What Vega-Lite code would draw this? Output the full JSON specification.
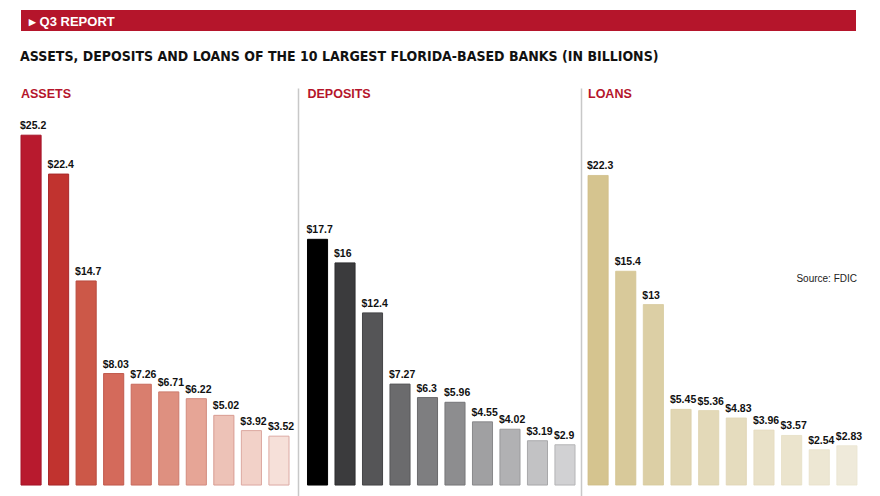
{
  "$schema": "https://vega.github.io/schema/vega-lite/v6.json",
  "padding": {"left": 20, "top": 10, "right": 24, "bottom": 0},
  "background": "white",
  "config": {"view": {"stroke": null}, "font": "Liberation Sans"},
  "datasets": {
    "banks": [
      {"metric": "Assets", "rank": 1, "value": 25.2},
      {"metric": "Assets", "rank": 2, "value": 22.4},
      {"metric": "Assets", "rank": 3, "value": 14.7},
      {"metric": "Assets", "rank": 4, "value": 8.03},
      {"metric": "Assets", "rank": 5, "value": 7.26},
      {"metric": "Assets", "rank": 6, "value": 6.71},
      {"metric": "Assets", "rank": 7, "value": 6.22},
      {"metric": "Assets", "rank": 8, "value": 5.02},
      {"metric": "Assets", "rank": 9, "value": 3.92},
      {"metric": "Assets", "rank": 10, "value": 3.52},
      {"metric": "Deposits", "rank": 1, "value": 17.7},
      {"metric": "Deposits", "rank": 2, "value": 16},
      {"metric": "Deposits", "rank": 3, "value": 12.4},
      {"metric": "Deposits", "rank": 4, "value": 7.27},
      {"metric": "Deposits", "rank": 5, "value": 6.3},
      {"metric": "Deposits", "rank": 6, "value": 5.96},
      {"metric": "Deposits", "rank": 7, "value": 4.55},
      {"metric": "Deposits", "rank": 8, "value": 4.02},
      {"metric": "Deposits", "rank": 9, "value": 3.19},
      {"metric": "Deposits", "rank": 10, "value": 2.9},
      {"metric": "Loans", "rank": 1, "value": 22.3},
      {"metric": "Loans", "rank": 2, "value": 15.4},
      {"metric": "Loans", "rank": 3, "value": 13},
      {"metric": "Loans", "rank": 4, "value": 5.45},
      {"metric": "Loans", "rank": 5, "value": 5.36},
      {"metric": "Loans", "rank": 6, "value": 4.83},
      {"metric": "Loans", "rank": 7, "value": 3.96},
      {"metric": "Loans", "rank": 8, "value": 3.57},
      {"metric": "Loans", "rank": 9, "value": 2.54},
      {"metric": "Loans", "rank": 10, "value": 2.83}
    ]
  },
  "bounds": "flush",
  "spacing": 57,
  "vconcat": [
    {
      "width": 835,
      "height": 21,
      "view": {"fill": "#b5152b", "stroke": null},
      "data": {"values": [{"label": "▸ Q3 REPORT"}]},
      "mark": {"type": "text", "align": "left", "baseline": "middle", "dx": 8, "dy": 1, "color": "white", "fontWeight": "bold", "fontSize": 13},
      "encoding": {
        "x": {"datum": 0, "type": "quantitative", "scale": {"domain": [0, 1]}, "axis": null},
        "text": {"field": "label"}
      }
    },
    {
      "title": {
        "text": "ASSETS, DEPOSITS AND LOANS OF THE 10 LARGEST FLORIDA-BASED BANKS (IN BILLIONS)",
        "anchor": "start",
        "font": "DejaVu Sans Condensed, sans-serif",
        "fontSize": 14,
        "fontWeight": "bold",
        "color": "#111111",
        "baseline": "alphabetic",
        "offset": 13
      },
      "bounds": "flush",
      "spacing": 13,
      "resolve": {"scale": {"color": "independent", "stroke": "independent"}},
      "hconcat": [
        {
          "width": 268,
          "height": 408,
          "layer": [
            {
              "data": {"name": "banks"},
              "transform": [{"filter": "datum.metric === 'Assets'"}],
              "mark": {"type": "bar", "strokeWidth": 1},
              "encoding": {
                "x": {"field": "rank", "type": "ordinal", "axis": null, "scale": {"paddingInner": 0.27, "paddingOuter": 0}},
                "y": {"field": "value", "type": "quantitative", "axis": null, "scale": {"domain": [-0.79, 28.6], "nice": false}},
                "color": {"field": "rank", "type": "ordinal", "legend": null, "scale": {"range": ["#b81a2e", "#c1332f", "#cc5848", "#d46a5b", "#d97e6e", "#de9080", "#e6a596", "#edc2b7", "#f2d1c8", "#f6e0d9"]}},
                "stroke": {"field": "rank", "type": "ordinal", "legend": null, "scale": {"range": ["#a51428", "#a8282a", "#b84a3e", "#c0594c", "#c86a5d", "#cc7a6c", "#d28a7e", "#d89c92", "#dca8a0", "#dcaaa4"]}}
              }
            },
            {
              "data": {"name": "banks"},
              "transform": [{"filter": "datum.metric === 'Assets'"}],
              "mark": {"type": "text", "align": "left", "baseline": "alphabetic", "dx": -1, "dy": -6, "fontWeight": "bold", "fontSize": 10.5, "color": "#111111"},
              "encoding": {
                "x": {"field": "rank", "type": "ordinal", "bandPosition": 0},
                "y": {"field": "value", "type": "quantitative"},
                "text": {"field": "value", "type": "quantitative", "format": "$.3~g"}
              }
            },
            {
              "data": {"values": [{"t": "ASSETS"}]},
              "mark": {"type": "text", "align": "left", "baseline": "top", "dy": 0, "fontWeight": "bold", "fontSize": 12.5, "color": "#b5152b"},
              "encoding": {
                "x": {"datum": 1, "type": "ordinal", "bandPosition": 0},
                "y": {"datum": 28.6, "type": "quantitative"},
                "text": {"field": "t"}
              }
            }
          ]
        },
        {
          "width": 273,
          "height": 408,
          "layer": [
            {
              "data": {"name": "banks"},
              "transform": [{"filter": "datum.metric === 'Deposits'"}],
              "mark": {"type": "bar", "strokeWidth": 1},
              "encoding": {
                "x": {"field": "rank", "type": "ordinal", "axis": null, "scale": {"paddingInner": 0.27, "paddingOuter": 0.1, "align": 1}},
                "y": {"field": "value", "type": "quantitative", "scale": {"domain": [-0.79, 28.6], "nice": false},
                  "axis": {"orient": "left", "domain": true, "domainColor": "#c8c8c8", "domainWidth": 1.5, "ticks": false, "labels": false, "grid": false, "title": null, "offset": 4}},
                "color": {"field": "rank", "type": "ordinal", "legend": null, "scale": {"range": ["#000000", "#3b3b3d", "#555557", "#6b6b6d", "#7e7e80", "#8d8d8f", "#a0a0a2", "#b1b1b3", "#c2c2c4", "#d1d1d3"]}},
                "stroke": {"field": "rank", "type": "ordinal", "legend": null, "scale": {"range": ["#000000", "#2e2e30", "#444446", "#58585a", "#6a6a6c", "#767678", "#88888a", "#9a9a9c", "#a8a8aa", "#b4b4b6"]}}
              }
            },
            {
              "data": {"name": "banks"},
              "transform": [{"filter": "datum.metric === 'Deposits'"}],
              "mark": {"type": "text", "align": "left", "baseline": "alphabetic", "dx": -1, "dy": -6, "fontWeight": "bold", "fontSize": 10.5, "color": "#111111"},
              "encoding": {
                "x": {"field": "rank", "type": "ordinal", "bandPosition": 0},
                "y": {"field": "value", "type": "quantitative"},
                "text": {"field": "value", "type": "quantitative", "format": "$.3~g"}
              }
            },
            {
              "data": {"values": [{"t": "DEPOSITS"}]},
              "mark": {"type": "text", "align": "left", "baseline": "top", "dy": 0, "fontWeight": "bold", "fontSize": 12.5, "color": "#b5152b"},
              "encoding": {
                "x": {"datum": 1, "type": "ordinal", "bandPosition": 0},
                "y": {"datum": 28.6, "type": "quantitative"},
                "text": {"field": "t"}
              }
            }
          ]
        },
        {
          "width": 269,
          "height": 408,
          "layer": [
            {
              "data": {"name": "banks"},
              "transform": [{"filter": "datum.metric === 'Loans'"}],
              "mark": {"type": "bar", "strokeWidth": 0.8},
              "encoding": {
                "x": {"field": "rank", "type": "ordinal", "axis": null, "scale": {"paddingInner": 0.27, "paddingOuter": 0}},
                "y": {"field": "value", "type": "quantitative", "scale": {"domain": [-0.79, 28.6], "nice": false},
                  "axis": {"orient": "left", "domain": true, "domainColor": "#c8c8c8", "domainWidth": 1.5, "ticks": false, "labels": false, "grid": false, "title": null, "offset": 7}},
                "color": {"field": "rank", "type": "ordinal", "legend": null, "scale": {"range": ["#d5c48f", "#d8c99a", "#dccfa5", "#e1d6b3", "#e3d9b8", "#e5dcbe", "#e9e1c8", "#ebe4cd", "#ede7d3", "#efeada"]}},
                "stroke": {"field": "rank", "type": "ordinal", "legend": null, "scale": {"range": ["#d0be88", "#d3c492", "#d7ca9d", "#dcd0aa", "#ded3b0", "#e0d6b5", "#e4dbbf", "#e6dec4", "#e8e1ca", "#eae4d1"]}}
              }
            },
            {
              "data": {"name": "banks"},
              "transform": [{"filter": "datum.metric === 'Loans'"}],
              "mark": {"type": "text", "align": "left", "baseline": "alphabetic", "dx": -1, "dy": -6, "fontWeight": "bold", "fontSize": 10.5, "color": "#111111"},
              "encoding": {
                "x": {"field": "rank", "type": "ordinal", "bandPosition": 0},
                "y": {"field": "value", "type": "quantitative"},
                "text": {"field": "value", "type": "quantitative", "format": "$.3~g"}
              }
            },
            {
              "data": {"values": [{"t": "LOANS"}]},
              "mark": {"type": "text", "align": "left", "baseline": "top", "dy": 0, "fontWeight": "bold", "fontSize": 12.5, "color": "#b5152b"},
              "encoding": {
                "x": {"datum": 1, "type": "ordinal", "bandPosition": 0},
                "y": {"datum": 28.6, "type": "quantitative"},
                "text": {"field": "t"}
              }
            },
            {
              "data": {"values": [{"t": "Source: FDIC"}]},
              "mark": {"type": "text", "align": "right", "baseline": "middle", "fontSize": 10, "color": "#222222"},
              "encoding": {
                "x": {"datum": 10, "type": "ordinal", "bandPosition": 1},
                "y": {"datum": 14.84, "type": "quantitative"},
                "text": {"field": "t"}
              }
            }
          ]
        }
      ]
    }
  ]
}
